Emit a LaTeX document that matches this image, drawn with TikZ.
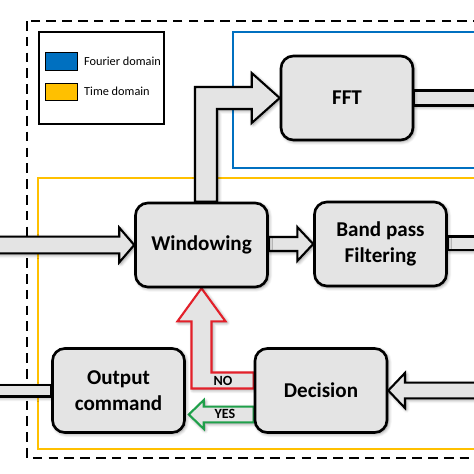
\documentclass[tikz,border=0pt]{standalone}
\usepackage{fontspec}
\setmainfont{Carlito}
\usetikzlibrary{calc,shadows.blur}

\definecolor{azul}{HTML}{0070C0}
\definecolor{amarillo}{HTML}{FFC000}
\definecolor{gris}{HTML}{E4E4E4}
\definecolor{rojo}{HTML}{E3202A}
\definecolor{verde}{HTML}{1FA04A}

\pgfdeclarelayer{fondo}
\pgfsetlayers{fondo,main}

\tikzset{
  sombra/.style={blur shadow={shadow blur steps=6, shadow xshift=0.8pt, shadow yshift=-0.8pt, shadow blur radius=2pt, shadow opacity=45}},
  caja/.style={draw, line width=1.5pt, fill=gris, rounded corners=7pt, sombra,
    minimum width=2.64cm, minimum height=1.68cm, align=center,
    font=\bfseries\fontsize{12}{15}\selectfont},
  bloque/.style={draw, line width=1.2pt, fill=gris, line join=miter, sombra},
  flechaNo/.style={bloque, draw=rojo},
  flechaSi/.style={bloque, draw=verde},
  marco/.style={line width=1.4pt},
  etiqueta/.style={font=\bfseries\fontsize{8}{9}\selectfont},
  leyenda/.style={anchor=west, font=\fontsize{7}{8}\selectfont}
}

% flecha de bloque horizontal: [estilo]{cola}{punta}{medio eje}{media cabeza}{largo cabeza}
\newcommand{\flecha}[6][bloque]{%
  \draw[#1] let \p1=(#2), \p2=(#3) in
    (\x1,\y2+#4) -- ({\x2-(#6)},\y2+#4) -- ({\x2-(#6)},\y2+#5) -- (\p2)
    -- ({\x2-(#6)},\y2-#5) -- ({\x2-(#6)},\y2-#4) -- (\x1,\y2-#4) -- cycle;}

\begin{document}
\begin{tikzpicture}[x=0.02cm, y=-0.02cm]
        \useasboundingbox (0,0) rectangle (474,474);

        % Leyenda
        \draw[line width=1.1pt] (39,32) rectangle (164,124);
        \draw[fill=azul, line width=0.5pt] (45,52) rectangle (77,70);
        \draw[fill=amarillo, line width=0.5pt] (45,83) rectangle (77,100);
        \node[leyenda] (leyF) at (78,61) {Fourier domain};
        \node[leyenda] (leyT) at (78,91.5) {Time domain};

        % Bloques
        \node[caja] (fft) at (347,98) {FFT};
        \node[caja] (win) at (201.5,245) {Windowing};
        \node[caja] (bp) at (380.5,244) {Band pass\\Filtering};
        \node[caja] (out) at (118.5,390.5) {Output\\command};
        \node[caja] (dec) at (321,390.5) {Decision};

        % Extremos libres
        \coordinate (entrada) at (-5,247.5);
        \coordinate (salidaFFT) at (485,98);
        \coordinate (salidaBP) at (485,242.5);
        \coordinate (entradaDec) at (485,391);
        \coordinate (salidaOut) at (-5,391);
        \coordinate (noA) at ($(dec.west)+(0,-18)$);
        \coordinate (noB) at ($(dec.west)+(0,-2)$);

        \begin{pgfonlayer}{fondo}
        \clip (0,0) rectangle (474,474);
        % Marcos
        \draw[marco, dashed, dash pattern=on 5.5pt off 3.5pt] (27,21) rectangle (490,458);
        \draw[marco, azul] (233,32) rectangle (490,168);
        \draw[marco, amarillo] (38,178) rectangle (490,449);

        % Flechas
        \flecha{entrada}{win.west}{4.8pt}{9.9pt}{8.5pt}
        \flecha{win.east}{bp.west}{4pt}{9.6pt}{9pt}
        \flecha{entradaDec}{dec.east}{4.5pt}{10pt}{-9.5pt}
        \flecha[flechaSi]{$(dec.west)+(0,24)$}{$(out.east)+(3,24)$}{4.5pt}{8.2pt}{-8.5pt}
        \draw[bloque] ($(fft.east)+(0,-7.5)$) rectangle ($(salidaFFT)+(0,7.5)$);
        \draw[bloque] ($(bp.east)+(0,-7.5)$) rectangle ($(salidaBP)+(0,7.5)$);
        \draw[bloque] ($(salidaOut)+(0,-6)$) rectangle ($(out.west)+(0,6)$);
        \draw[bloque] ($(win.north)+(-6.5,0)$) |- ($(fft.west)+(-28,-11)$) -- ++(0,-14)
            -- (fft.west) -- ++(-28,25) -- ++(0,-14) -| ($(win.north)+(15.5,0)$) -- cycle;
        \draw[flechaNo] (win.south) -- ++(24,33) -- ++(-14,0) |- (noA) -- (noB)
            -| ($(win.south)+(-10,33)$) -- ++(-14,0) -- cycle;
        \end{pgfonlayer}

        % Etiquetas
        \node[etiqueta] (no) at (223,381) {NO};
        \node[etiqueta] (yes) at (225,414) {YES};
\end{tikzpicture}
\end{document}
